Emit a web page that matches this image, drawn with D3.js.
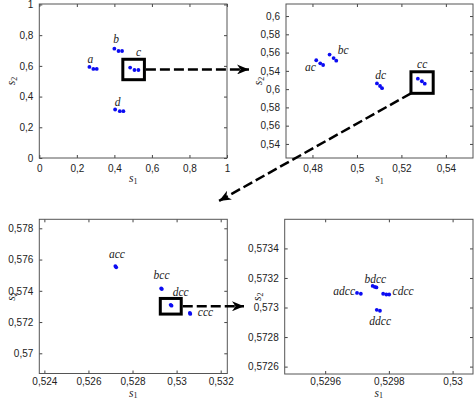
<!DOCTYPE html>
<html>
<head>
<meta charset="utf-8">
<script src="https://cdn.jsdelivr.net/npm/d3@7"></script>
<style>
  body { margin: 0; background: #fff; }
  svg { display: block; }
  .tick text { font-family: "Liberation Sans", Arial, sans-serif; font-size: 10px; fill: #222; }
  .tick line { stroke: #444; }
  .lbl { font-family: "Liberation Serif", "Times New Roman", serif; font-style: italic; font-size: 11.5px; fill: #222; }
</style>
</head>
<body>
<div id="chart"></div>
<script>
// ---- data ----
// panel 1 : whole square
var p1Labels = ["a", "b", "c", "d"];
var p1S1 = [[0.267, 0.288, 0.306], [0.400, 0.422, 0.441], [0.484, 0.507, 0.528], [0.404, 0.429, 0.448]];
var p1S2 = [[0.593, 0.580, 0.580], [0.712, 0.697, 0.697], [0.589, 0.573, 0.573], [0.316, 0.305, 0.305]];
var p1XTicks = [0, 0.2, 0.4, 0.6, 0.8, 1];
var p1XLabels = ["0", "0,2", "0,4", "0,6", "0,8", "1"];
var p1YTicks = [0, 0.2, 0.4, 0.6, 0.8, 1];
var p1YLabels = ["0", "0,2", "0,4", "0,6", "0,8", "1"];
var p1Box = [0.445, 0.560, 0.510, 0.643];

// panel 2 : zoom on c
var p2Labels = ["ac", "bc", "dc", "cc"];
var p2S1 = [[0.4817, 0.4835, 0.4848], [0.4877, 0.4895, 0.4907], [0.5090, 0.5104, 0.5113], [0.5274, 0.5292, 0.5305]];
var p2S2 = [[0.5858, 0.5841, 0.5832], [0.5889, 0.5870, 0.5856], [0.5731, 0.5717, 0.5705], [0.5757, 0.5743, 0.5730]];
var p2XTicks = [0.48, 0.50, 0.52, 0.54];
var p2XLabels = ["0,48", "0,5", "0,52", "0,54"];
var p2YTicks = [0.61, 0.60, 0.59, 0.58, 0.57, 0.56, 0.55, 0.54];
var p2YLabels = ["0,6", "0,58", "0,56", "0,54", "0,6", "0,58", "0,56", "0,54"];
var p2Box = [0.5243, 0.5343, 0.5677, 0.5795];

// panel 3 : zoom on cc
var p3Labels = ["acc", "bcc", "dcc", "ccc"];
var p3S1 = [[0.52722, 0.52726], [0.52930, 0.52933], [0.52973, 0.52977], [0.53060, 0.53062]];
var p3S2 = [[0.57558, 0.57550], [0.57415, 0.57411], [0.57310, 0.57305], [0.57258, 0.57252]];
var p3XTicks = [0.524, 0.526, 0.528, 0.530, 0.532];
var p3XLabels = ["0,524", "0,526", "0,528", "0,53", "0,532"];
var p3YTicks = [0.570, 0.572, 0.574, 0.576, 0.578];
var p3YLabels = ["0,57", "0,572", "0,574", "0,576", "0,578"];
var p3Box = [0.52926, 0.53021, 0.57251, 0.57351];

// panel 4 : zoom on dcc
var p4Labels = ["adcc", "bdcc", "cdcc", "ddcc"];
var p4S1 = [[0.529700, 0.529712], [0.529749, 0.529756, 0.529761], [0.529782, 0.529792, 0.529801], [0.529762, 0.529772]];
var p4S2 = [[0.573099, 0.573093], [0.573146, 0.573139, 0.573136], [0.573093, 0.573088, 0.573088], [0.572984, 0.572978]];
var p4XTicks = [0.5296, 0.5298, 0.5300];
var p4XLabels = ["0,5296", "0,5298", "0,53"];
var p4YTicks = [0.5726, 0.5728, 0.5730, 0.5732, 0.5734];
var p4YLabels = ["0,5726", "0,5728", "0,573", "0,5732", "0,5734"];

// ---- layout ----
var W = 474, H = 399;
var panels = [
  { rect: [39.3, 227, 4, 158], xDom: [0, 1], yDom: [0, 1.003], titleDy: 24, pad: 6.5,
    labels: p1Labels, s1: p1S1, s2: p1S2, xt: p1XTicks, xl: p1XLabels, yt: p1YTicks, yl: p1YLabels, box: p1Box,
    off: [[1, -3.5], [1.7, -6], [8.3, -11.5], [2.6, -3.5]] },
  { rect: [286, 473, 4, 158], xDom: [0.4681, 0.5522], yDom: [0.5323, 0.6166], titleDy: 24, pad: 6.5,
    labels: p2Labels, s1: p2S1, s2: p2S2, xt: p2XTicks, xl: p2XLabels, yt: p2YTicks, yl: p2YLabels, box: p2Box,
    off: [[-5.7, 11.2], [13.7, -0.5], [3.8, -4.5], [4.3, -11.2]] },
  { rect: [39.3, 227.3, 219.3, 373.5], xDom: [0.52377, 0.5323], yDom: [0.568707, 0.578576], titleDy: 23.3, pad: 4.5,
    labels: p3Labels, s1: p3S1, s2: p3S2, xt: p3XTicks, xl: p3XLabels, yt: p3YTicks, yl: p3YLabels, box: p3Box,
    off: [[1.6, -8.5], [0.4, -9], [10, -9], [15.7, 3.2]] },
  { rect: [284.7, 473, 219.3, 374], xDom: [0.529473, 0.530064], yDom: [0.57255, 0.573597], titleDy: 22.8, pad: 4,
    labels: p4Labels, s1: p4S1, s2: p4S2, xt: p4XTicks, xl: p4XLabels, yt: p4YTicks, yl: p4YLabels, box: null,
    off: [[-12.8, 2], [2.7, -3], [20, 1], [3.4, 15]] }
];

var svg = d3.select("#chart").append("svg")
  .attr("width", W)
  .attr("height", H);

// arrow head
svg.append("defs").append("marker")
  .attr("id", "head")
  .attr("markerUnits", "userSpaceOnUse")
  .attr("markerWidth", 12)
  .attr("markerHeight", 10)
  .attr("refX", 12)
  .attr("refY", 5)
  .attr("orient", "auto")
.append("path")
  .attr("d", "M0,0 L12,5 L0,10 L3.5,5 Z")
  .attr("fill", "#000");

panels.forEach(function (p) {
  var x = d3.scaleLinear().domain(p.xDom).range([p.rect[0], p.rect[1]]),
      y = d3.scaleLinear().domain(p.yDom).range([p.rect[3], p.rect[2]]),
      g = svg.append("g");
  p.x = x; p.y = y;

  // axes, ticks pointing inward on all four sides
  g.append("g")
    .attr("transform", "translate(0," + p.rect[3] + ")")
    .call(d3.axisBottom(x).tickValues(p.xt).tickFormat(function (d, i) { return p.xl[i]; })
      .tickSize(-3).tickSizeOuter(0).tickPadding(p.pad));
  g.append("g")
    .attr("transform", "translate(0," + p.rect[2] + ")")
    .call(d3.axisTop(x).tickValues(p.xt).tickFormat("").tickSize(-3).tickSizeOuter(0));
  g.append("g")
    .attr("transform", "translate(" + p.rect[0] + ",0)")
    .call(d3.axisLeft(y).tickValues(p.yt).tickFormat(function (d, i) { return p.yl[i]; })
      .tickSize(-3).tickSizeOuter(0).tickPadding(6));
  g.append("g")
    .attr("transform", "translate(" + p.rect[1] + ",0)")
    .call(d3.axisRight(y).tickValues(p.yt).tickFormat("").tickSize(-3).tickSizeOuter(0));
  g.selectAll(".domain").remove();

  g.append("rect")
    .attr("x", p.rect[0])
    .attr("y", p.rect[2])
    .attr("width", p.rect[1] - p.rect[0])
    .attr("height", p.rect[3] - p.rect[2])
    .attr("fill", "none")
    .attr("stroke", "#555")
    .attr("stroke-width", 1);

  // axis titles
  var s1 = g.append("text")
    .attr("class", "lbl")
    .attr("x", (p.rect[0] + p.rect[1]) / 2)
    .attr("y", p.rect[3] + p.titleDy)
    .attr("text-anchor", "middle");
  s1.append("tspan").text("s");
  s1.append("tspan").attr("dy", 1.5).style("font-size", "8px").style("font-style", "normal").text("1");

  var s2 = g.append("text")
    .attr("class", "lbl")
    .attr("transform", "translate(" + (p.rect[0] - 24) + "," + ((p.rect[2] + p.rect[3]) / 2) + ") rotate(-90)")
    .attr("text-anchor", "middle");
  s2.append("tspan").text("s");
  s2.append("tspan").attr("dy", 2).style("font-size", "8px").style("font-style", "normal").text("2");

  // points
  p.labels.forEach(function (name, i) {
    g.selectAll(null)
      .data(d3.zip(p.s1[i], p.s2[i]))
    .enter().append("circle")
      .attr("cx", function (d) { return x(d[0]); })
      .attr("cy", function (d) { return y(d[1]); })
      .attr("r", 1.9)
      .attr("fill", "#0c0cf2");

    g.append("text")
      .attr("class", "lbl")
      .attr("x", x(p.s1[i][0]) + p.off[i][0])
      .attr("y", y(p.s2[i][0]) + p.off[i][1])
      .attr("text-anchor", "middle")
      .text(name);
  });

  // zoom box
  if (p.box) {
    g.append("rect")
      .attr("x", x(p.box[0]))
      .attr("y", y(p.box[3]))
      .attr("width", x(p.box[1]) - x(p.box[0]))
      .attr("height", y(p.box[2]) - y(p.box[3]))
      .attr("fill", "none")
      .attr("stroke", "#000")
      .attr("stroke-width", 3);
  }
});

// dashed arrows from each box to the next panel
function arrow(x1, y1, x2, y2) {
  svg.append("line")
    .attr("x1", x1).attr("y1", y1)
    .attr("x2", x2).attr("y2", y2)
    .attr("stroke", "#000")
    .attr("stroke-width", 2.5)
    .attr("stroke-dasharray", "10,4")
    .attr("marker-end", "url(#head)");
}

var b1 = panels[0], b2 = panels[1], b3 = panels[2];
var m1 = (b1.y(b1.box[2]) + b1.y(b1.box[3])) / 2;
arrow(b1.x(b1.box[1]) + 1.5, m1, 249, m1);
arrow(b2.x(b2.box[0]), b2.y(b2.box[2]), 219, 201);
var m3 = (b3.y(b3.box[2]) + b3.y(b3.box[3])) / 2;
arrow(b3.x(b3.box[1]) + 1.5, m3, 244, m3);
</script>
</body>
</html>
